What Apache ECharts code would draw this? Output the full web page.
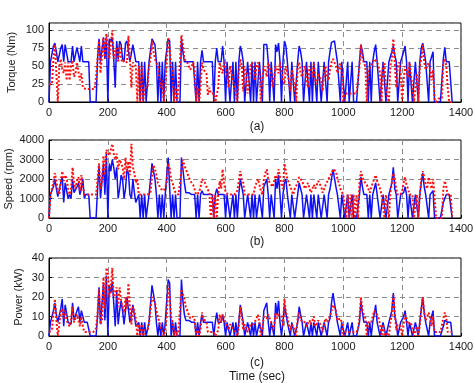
<!DOCTYPE html>
<html><head><meta charset="utf-8">
<script src="https://cdn.jsdelivr.net/npm/echarts@6/dist/echarts.min.js"></script>
<style>html,body{margin:0;padding:0;background:#fff}#c{width:474px;height:383px}</style>
</head><body><div id="c"></div>
<script>
// sampling step of the time axis (sec); one line = 50 s
const timeStep = 5;
const xTickValues = [0, 200, 400, 600, 800, 1000, 1200, 1400];
const panelLabels = ['(a)', '(b)', '(c)'];
const xTitle = 'Time (sec)';
const yTitles = ['Torque (Nm)', 'Speed (rpm)', 'Power (kW)'];

const torqueBlue = [
  0,56,56,78,82,70,56,56,75,80,
  56,80,80,56,56,56,78,56,56,76,
  78,56,78,56,56,56,56,56,0,0,
  0,0,0,60,88,56,56,90,60,90,
  0,88,85,90,60,20,85,60,85,80,
  60,56,82,85,85,56,56,80,78,56,
  56,56,0,56,0,56,0,0,56,56,
  88,88,80,56,0,56,0,56,0,56,
  56,88,85,0,56,0,56,0,0,0,
  88,70,56,56,56,56,56,56,56,56,
  0,56,0,56,72,56,56,56,56,56,
  56,56,0,56,75,56,56,56,78,56,
  0,56,56,0,0,56,0,56,0,56,
  78,70,56,0,0,56,56,0,56,0,
  56,0,0,56,56,0,80,78,80,56,
  0,56,56,0,80,70,82,56,0,56,
  85,78,56,56,0,56,56,0,0,56,
  78,70,56,0,0,56,56,0,56,0,
  56,56,0,56,56,0,0,56,56,0,
  56,70,83,85,85,70,56,56,0,56,
  56,0,0,56,0,0,56,0,0,0,
  0,56,80,70,56,56,56,0,56,0,
  56,70,80,56,56,0,0,56,56,0,
  0,56,56,70,78,65,56,0,0,56,
  56,70,78,56,0,56,56,0,0,56,
  56,0,56,75,82,70,56,56,0,56,
  56,70,0,0,0,0,0,0,60,76,
  56,56,56,56,0
];
const torqueRed = [
  25,25,25,60,80,40,0,50,60,45,
  40,55,30,55,30,50,58,35,40,55,
  55,30,40,20,18,18,18,18,18,18,
  18,18,35,60,85,40,40,90,60,95,
  95,60,80,100,60,70,75,55,80,60,
  55,58,60,55,92,60,20,55,55,50,
  0,50,0,50,0,20,20,20,50,60,
  85,70,60,55,50,35,20,30,0,20,
  55,90,75,50,40,0,20,0,20,20,
  93,80,60,58,55,50,45,50,55,45,
  0,20,0,20,55,45,45,40,10,20,
  12,12,12,0,0,20,55,45,40,55,
  55,40,20,50,50,30,30,12,0,40,
  60,50,15,50,40,12,12,50,55,50,
  30,50,55,40,0,30,50,45,35,55,
  55,40,20,35,50,45,40,55,55,30,
  25,50,50,30,15,45,45,20,0,50,
  55,40,35,45,50,30,20,50,45,35,
  55,30,25,40,40,30,15,45,50,35,
  30,45,55,60,60,50,40,45,55,40,
  0,12,12,12,12,12,12,12,12,12,
  30,50,80,60,55,50,0,45,45,50,
  55,60,60,55,50,40,0,50,55,15,
  15,0,50,60,88,55,20,50,55,40,
  0,30,50,50,35,55,55,20,0,0,
  40,0,50,60,80,55,45,50,55,45,
  30,45,5,0,0,5,5,5,55,60,
  50,20,0,0,0
];
const speedBlue = [
  0,1200,1200,1600,2000,1500,1100,1200,1800,2100,
  800,1800,1700,1000,1200,1000,2000,1300,1200,1600,
  1800,1200,1500,2000,1000,1200,1200,1200,0,0,
  0,0,0,1500,2700,1000,900,2800,1200,3300,
  0,2800,2400,3000,2600,2000,2600,1000,1500,2200,
  2000,1000,1500,2500,2300,1200,1000,2000,1300,800,
  800,1200,0,1200,0,1200,0,0,1200,1200,
  2800,2900,2000,1200,0,1200,0,1200,0,1200,
  1200,3100,3000,0,1200,0,1200,0,0,0,
  3100,2500,1800,1300,1200,1300,1300,1200,1200,1200,
  0,1200,0,1200,1400,1200,1200,1200,1200,1200,
  1200,1200,0,1200,1500,1200,1200,1200,1300,1200,
  0,1200,1200,0,0,1200,0,1200,0,1200,
  2000,1600,1200,0,0,1200,1200,0,1200,0,
  1200,0,0,1200,1200,0,1600,1800,2000,1200,
  0,1200,1200,0,2000,1500,2200,1200,0,1200,
  1800,2000,1200,1200,0,1200,1200,0,0,1200,
  1800,1500,1200,0,0,1200,1200,0,1200,0,
  1200,1200,0,1200,1200,0,0,1200,1200,0,
  1200,1500,2000,2500,2500,1600,1200,1200,0,1200,
  1200,0,0,1200,0,0,1200,0,0,0,
  0,1200,2100,1600,1200,1200,1200,0,1200,0,
  1200,1500,1800,1200,1200,0,0,1200,1200,0,
  0,1200,1200,1800,2600,1500,1200,0,0,1200,
  1200,1300,1600,1200,0,1200,1200,0,0,1200,
  1200,0,1200,1800,2300,1600,1200,1200,0,1200,
  1200,1400,0,0,0,0,0,0,800,1000,
  1200,1200,1200,1200,0
];
const speedRed = [
  0,1200,1300,1800,2300,1900,1400,1200,1900,2400,
  1900,2200,2000,1500,1200,1500,2600,1800,1500,1900,
  2100,1400,2200,1700,1200,1200,1200,1200,1200,1200,
  1200,1200,1200,2000,2800,1500,1800,3200,2200,3500,
  3400,3200,3500,3800,3300,3000,3300,2500,3000,2800,
  2600,2000,3100,2400,2900,2200,3800,2600,2300,1800,
  2000,1200,1200,1200,1200,1200,1200,1200,1300,1300,
  2200,2700,2500,2200,1800,1700,1500,1400,1400,1300,
  1800,2800,2600,2000,1800,1500,1300,1200,1200,1200,
  2400,3000,2700,2500,2300,2100,1900,1800,1700,1600,
  1200,1200,1300,1600,2000,1900,1800,1600,1500,1300,
  0,1200,0,1200,0,1200,1900,1500,2500,1800,
  1300,1200,1200,1200,1200,1200,1200,1200,1400,1300,
  2400,2000,1800,1200,1200,1200,1200,1200,1200,1200,
  1600,1800,2000,1700,1400,1200,2000,2300,2500,2000,
  1800,1700,1600,1500,2200,2000,2500,2100,1700,1500,
  2800,2400,2000,1800,1700,1400,1200,1500,1600,1800,
  2100,2000,1900,1700,1500,1600,1800,1500,1300,1400,
  1700,1500,1400,1900,1900,1600,1300,1500,1700,1800,
  2000,2100,2300,2500,2600,2400,2000,1800,1500,1600,
  1200,1200,0,1200,0,1200,0,1200,0,1200,
  0,1800,2400,2100,1900,1800,1700,1500,1300,1400,
  1800,2000,2200,1900,1700,1500,1200,1200,0,1200,
  1200,0,1300,1800,2300,2000,1500,1200,1200,1200,
  1400,1800,2100,1700,1500,1200,1200,1200,0,0,
  1200,0,1200,2000,2400,2100,1700,1500,2100,1800,
  1500,2000,1200,0,0,0,0,0,1500,1900,
  1600,1200,1200,1200,0
];
const powerBlue = [
  0,7,7,13,17,11,7,7,14,19,
  5,16,15,7,7,6,17,8,7,13,
  15,7,13,12,7,7,7,7,0,0,
  0,0,0,10,25,6,6,27,8,31,
  0,26,22,28,17,5,23,6,13,18,
  13,6,13,20,20,7,7,16,11,5,
  5,7,0,7,0,7,0,0,7,7,
  26,27,17,7,0,7,0,7,0,7,
  7,29,27,0,7,0,7,0,0,0,
  29,18,11,8,7,8,8,7,7,7,
  0,7,0,7,11,7,7,7,7,7,
  7,7,0,7,12,7,7,7,11,7,
  0,7,7,0,0,7,0,7,0,7,
  16,12,7,0,0,7,7,0,7,0,
  7,0,0,7,7,0,13,14,17,7,
  0,7,7,0,17,11,18,7,0,7,
  16,16,7,7,0,7,7,0,0,7,
  15,11,7,0,0,7,7,0,7,0,
  7,7,0,7,7,0,0,7,7,0,
  7,9,17,22,22,12,7,7,0,7,
  7,0,0,7,0,0,7,0,0,0,
  0,7,18,12,7,7,7,0,7,0,
  7,11,16,7,7,0,0,7,7,0,
  0,7,7,13,22,10,7,0,0,7,
  7,10,13,7,0,7,7,0,0,7,
  7,0,7,14,20,12,7,7,0,7,
  7,13,0,0,0,0,0,0,5,8,
  7,7,7,7,0
];
const powerRed = [
  2,3,3,11,19,8,0,6,12,14,
  9,13,8,9,5,8,15,7,6,11,
  12,5,10,5,2,2,2,2,2,2,
  2,2,4,12,24,6,8,30,14,35,
  33,20,25,35,20,22,25,15,25,18,
  15,12,20,14,27,14,6,15,13,9,
  0,6,0,6,0,3,3,3,7,8,
  20,19,17,13,10,7,4,4,0,3,
  10,26,20,10,7,0,3,0,3,3,
  24,25,19,15,13,11,9,9,10,8,
  0,3,0,3,12,9,9,7,2,3,
  2,2,2,0,0,3,11,7,11,9,
  8,5,3,6,6,4,4,2,0,5,
  15,10,3,6,5,2,2,6,7,6,
  5,9,11,7,0,4,10,10,9,11,
  10,7,3,6,12,9,11,12,10,5,
  19,12,10,6,3,6,6,3,0,9,
  12,8,7,8,8,5,4,8,6,5,
  10,5,4,8,8,5,2,7,9,7,
  6,10,13,16,16,13,8,9,9,7,
  0,2,2,2,2,2,2,2,2,2,
  4,9,20,13,11,9,0,7,6,7,
  10,13,14,11,9,6,0,6,0,2,
  2,0,7,11,21,12,3,6,7,5,
  0,6,11,9,6,7,7,3,0,0,
  5,0,6,13,20,12,8,8,12,9,
  5,10,2,2,2,2,2,2,9,12,
  9,2,2,2,2
];
const yRanges = [
  {max: 110, interval: 25},
  {max: 4000, interval: 1000},
  {max: 40, interval: 10}
];

const times = torqueBlue.map((_, i) => i * timeStep);
const pairs = arr => arr.map((v, i) => [times[i], v]);

const FONT = 'Liberation Sans, Arial, Helvetica, sans-serif';
const gridTops = [23, 140, 258];
const gridH = [79, 78, 78];
const nameGaps = [32, 35, 25];

const grids = gridTops.map((top, i) => ({
  left: 49, right: 13, top: top, height: gridH[i],
  outerBoundsMode: 'none', containLabel: false,
  show: true, borderColor: '#000', borderWidth: 1, backgroundColor: 'transparent'
}));
const dashed = {type: [5, 4], color: '#8c8c8c', width: 1};
const plain = v => String(v);
const xAxes = gridTops.map((_, i) => ({
  type: 'value', gridIndex: i, min: xTickValues[0], max: xTickValues[xTickValues.length - 1],
  interval: xTickValues[1] - xTickValues[0],
  axisLine: {show: true, lineStyle: {color: '#000', width: 1}},
  axisTick: {show: true, inside: true, length: 3, lineStyle: {color: '#000'}},
  axisLabel: {fontSize: 11, color: '#1a1a1a', margin: 5, fontFamily: FONT, formatter: plain},
  splitLine: {show: true, lineStyle: dashed}
}));
const yAxes = gridTops.map((_, i) => ({
  type: 'value', gridIndex: i, min: 0, max: yRanges[i].max, interval: yRanges[i].interval,
  name: yTitles[i], nameLocation: 'middle', nameGap: nameGaps[i], nameMoveOverlap: false,
  nameTextStyle: {fontSize: 11, color: '#1a1a1a', fontFamily: FONT},
  axisLine: {show: true, lineStyle: {color: '#000', width: 1}},
  axisTick: {show: true, inside: true, length: 3, lineStyle: {color: '#000'}},
  axisLabel: {fontSize: 11, color: '#1a1a1a', margin: 5, fontFamily: FONT, showMaxLabel: i !== 0, formatter: plain},
  splitLine: {show: true, lineStyle: dashed}
}));

const blueStyle = {color: '#1010f5', width: 1.5, type: 'solid'};
const redStyle = {color: '#ff1010', width: 2, type: [2, 2]};
const mk = (data, idx, style) => ({
  type: 'line', xAxisIndex: idx, yAxisIndex: idx, data: pairs(data),
  showSymbol: false, symbol: 'none', lineStyle: style, itemStyle: {color: style.color},
  animation: false, silent: true
});

const series = [
  mk(torqueBlue, 0, blueStyle), mk(torqueRed, 0, redStyle),
  mk(speedBlue, 1, blueStyle), mk(speedRed, 1, redStyle),
  mk(powerBlue, 2, blueStyle), mk(powerRed, 2, redStyle)
];

const chart = echarts.init(document.getElementById('c'), null, {renderer: 'canvas'});
chart.setOption({
  animation: false,
  grid: grids, xAxis: xAxes, yAxis: yAxes, series: series,
  graphic: [
    {type: 'text', x: 257, y: 121, style: {text: panelLabels[0], font: '12px ' + FONT, fill: '#1a1a1a', textAlign: 'center'}},
    {type: 'text', x: 257, y: 236, style: {text: panelLabels[1], font: '12px ' + FONT, fill: '#1a1a1a', textAlign: 'center'}},
    {type: 'text', x: 257, y: 357, style: {text: panelLabels[2], font: '12px ' + FONT, fill: '#1a1a1a', textAlign: 'center'}},
    {type: 'text', x: 257, y: 371, style: {text: xTitle, font: '12px ' + FONT, fill: '#1a1a1a', textAlign: 'center'}}
  ]
});
</script>
</body></html>
